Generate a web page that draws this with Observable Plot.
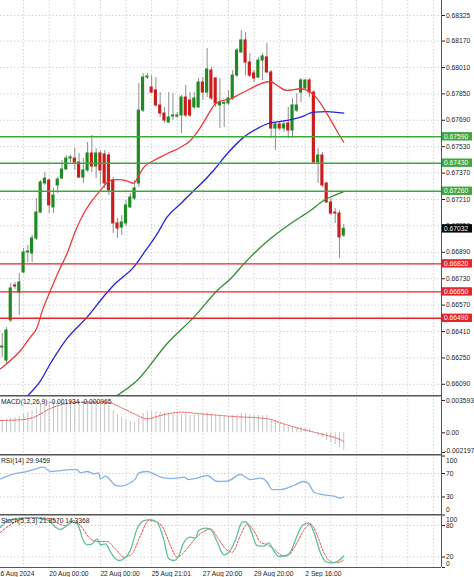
<!DOCTYPE html>
<html><head><meta charset="utf-8">
<script src="https://cdn.jsdelivr.net/npm/d3@7"></script>
<script src="https://cdn.jsdelivr.net/npm/@observablehq/plot@0.6"></script>
<style>
html,body{margin:0;padding:0;background:#fff;overflow:hidden;}
#chart{position:relative;width:474px;height:577px;overflow:hidden;}
#chart svg{position:absolute;left:0;}
</style></head><body><div id="chart"></div>
<script>
// ---------- candles (H4) ----------
const open  = [0.66313,0.66234,0.66477,0.66689,0.66646,0.66768,0.66889,0.66883,0.66974,0.67131,0.67307,0.67325,0.67162,0.67295,0.67337,0.67392,0.67458,0.67458,0.67434,0.67343,0.67386,0.67489,0.67410,0.67489,0.67483,0.67477,0.67325,0.67065,0.67040,0.67065,0.67162,0.67216,0.67307,0.67749,0.67949,0.67889,0.67871,0.67780,0.67731,0.67677,0.67713,0.67713,0.67719,0.67828,0.67810,0.67768,0.67768,0.67919,0.67858,0.67992,0.67943,0.67780,0.67790,0.67792,0.67822,0.67961,0.68101,0.68174,0.68040,0.67974,0.67949,0.68052,0.68071,0.67980,0.67640,0.67665,0.67640,0.67671,0.67628,0.67749,0.67858,0.67883,0.67931,0.67858,0.67434,0.67477,0.67307,0.67192,0.67131,0.67125,0.66992];
const high  = [0.66398,0.66434,0.66701,0.66707,0.66762,0.66913,0.66931,0.66992,0.67216,0.67325,0.67374,0.67337,0.67277,0.67343,0.67446,0.67477,0.67477,0.67519,0.67489,0.67458,0.67556,0.67598,0.67519,0.67507,0.67507,0.67495,0.67343,0.67095,0.67113,0.67204,0.67246,0.67325,0.67913,0.67974,0.67974,0.67961,0.67949,0.67858,0.67768,0.67858,0.67852,0.67737,0.67840,0.67901,0.67858,0.67858,0.67943,0.67949,0.68125,0.68010,0.67949,0.67943,0.67804,0.67871,0.67992,0.68125,0.68234,0.68222,0.68095,0.67992,0.68071,0.68095,0.68155,0.67992,0.67677,0.67677,0.67689,0.67768,0.67822,0.67852,0.67943,0.67937,0.67943,0.67871,0.67519,0.67495,0.67313,0.67216,0.67156,0.67143,0.67059];
const low   = [0.66253,0.66216,0.66465,0.66665,0.66507,0.66762,0.66828,0.66828,0.66962,0.67125,0.67295,0.67125,0.67125,0.67246,0.67331,0.67386,0.67434,0.67386,0.67337,0.67307,0.67374,0.67374,0.67337,0.67295,0.67277,0.67234,0.67004,0.66974,0.66992,0.67046,0.67156,0.67204,0.67283,0.67737,0.67937,0.67852,0.67768,0.67707,0.67671,0.67671,0.67689,0.67701,0.67610,0.67707,0.67707,0.67756,0.67762,0.67810,0.67828,0.67810,0.67768,0.67640,0.67646,0.67780,0.67810,0.67949,0.68095,0.67961,0.67949,0.67919,0.67943,0.67931,0.67974,0.67580,0.67507,0.67628,0.67616,0.67580,0.67580,0.67737,0.67798,0.67871,0.67828,0.67428,0.67307,0.67283,0.67186,0.67113,0.67065,0.66853,0.66980];
const close = [0.66319,0.66416,0.66671,0.66683,0.66707,0.66889,0.66895,0.66974,0.67131,0.67313,0.67337,0.67174,0.67234,0.67331,0.67392,0.67458,0.67465,0.67434,0.67343,0.67386,0.67489,0.67410,0.67489,0.67386,0.67307,0.67265,0.67065,0.67034,0.67071,0.67174,0.67222,0.67277,0.67749,0.67949,0.67955,0.67858,0.67780,0.67731,0.67689,0.67707,0.67719,0.67719,0.67828,0.67719,0.67719,0.67822,0.67919,0.67858,0.67998,0.67822,0.67792,0.67798,0.67795,0.67822,0.67961,0.68113,0.68174,0.68040,0.67961,0.67943,0.68052,0.68077,0.67980,0.67640,0.67665,0.67640,0.67665,0.67628,0.67780,0.67780,0.67931,0.67931,0.67858,0.67434,0.67477,0.67295,0.67192,0.67125,0.67125,0.66980,0.67032];

// ---------- moving averages: [bar, price] ----------
const maRed = [[-0.4,0.66184],[1.9,0.66234],[4.3,0.66295],[6.6,0.66376],[8.2,0.66436],[9.4,0.66537],[11.3,0.66658],[13.3,0.66780],[15.2,0.66883],[17.2,0.67022],[19.1,0.67125],[21.1,0.67204],[23,0.67265],[24.6,0.67313],[26.1,0.67331],[27.7,0.67331],[29.3,0.67321],[30.8,0.67309],[32,0.67356],[33.2,0.67406],[35.5,0.67446],[38.6,0.67487],[41.8,0.67527],[44.1,0.67568],[45.7,0.67618],[47.2,0.67679],[48.8,0.67749],[50,0.67790],[52.3,0.67814],[53.5,0.67820],[55.8,0.67851],[58.1,0.67881],[60.5,0.67911],[62.8,0.67925],[64.4,0.67901],[66.7,0.67871],[69.9,0.67881],[72.2,0.67860],[73.8,0.67820],[76.1,0.67729],[78.1,0.67639],[80,0.67557]];
const maBlue = [[6,0.66022],[9,0.66113],[11.3,0.66216],[15.2,0.66368],[19.9,0.66497],[24.6,0.66648],[26.5,0.66701],[30.8,0.66800],[33.6,0.66901],[36.3,0.67002],[38.6,0.67103],[41.8,0.67184],[44.9,0.67265],[46.4,0.67301],[49.5,0.67386],[52.7,0.67487],[56.6,0.67588],[59.7,0.67639],[62.1,0.67669],[66.7,0.67689],[69.9,0.67709],[73,0.67739],[76.1,0.67743],[80,0.67733]];
const maGreen = [[26.9,0.66022],[31.6,0.66113],[38.6,0.66336],[44.9,0.66497],[50.4,0.66659],[53.5,0.66730],[56.6,0.66820],[59.7,0.66901],[62.8,0.66972],[67.5,0.67063],[72.2,0.67143],[75.3,0.67204],[77.7,0.67234],[80,0.67258]];

// ---------- levels and labels ----------
const resistLevels = [0.67590, 0.67430, 0.67260];
const supportLevels = [0.66820, 0.66650, 0.66490];
const lastPrice = 0.67032;
const priceTicks = [0.68325,0.68170,0.68010,0.67850,0.67690,0.67530,0.67370,0.67210,0.67050,0.66890,0.66730,0.66570,0.66410,0.66250,0.66090];
const dateBars = [-1.25, 11, 23, 35, 47, 59, 71];
const dateLabels = ["16 Aug 2024","20 Aug 00:00","22 Aug 00:00","25 Aug 21:01","27 Aug 20:00","29 Aug 20:00","2 Sep 16:00"];
const gridBars = [5,11,17,23,29,35,41,47,53,59,65,71,77,83,89,95,101];

// ---------- MACD(12,26,9) ----------
const macdHist = [0.00148,0.00148,0.00159,0.00170,0.00181,0.00203,0.00226,0.00248,0.00281,0.00314,0.00337,0.00348,0.00348,0.00353,0.00359,0.00359,0.00359,0.00353,0.00348,0.00348,0.00353,0.00348,0.00348,0.00337,0.00326,0.00303,0.00248,0.00203,0.00170,0.00148,0.00126,0.00114,0.00159,0.00214,0.00237,0.00237,0.00237,0.00226,0.00214,0.00214,0.00203,0.00203,0.00203,0.00203,0.00192,0.00192,0.00203,0.00203,0.00214,0.00203,0.00192,0.00181,0.00181,0.00181,0.00192,0.00203,0.00214,0.00214,0.00203,0.00192,0.00192,0.00192,0.00192,0.00148,0.00126,0.00103,0.00092,0.00081,0.00070,0.00059,0.00059,0.00048,0.00037,0.00003,-0.00030,-0.00052,-0.00086,-0.00108,-0.00130,-0.00163,-0.001934];
const macdSignal = [[-0.4,0.00137],[4.3,0.00144],[7.4,0.00173],[11.3,0.0027],[15.2,0.00326],[19.1,0.0034],[24.6,0.0034],[27.7,0.00284],[30.8,0.00214],[34,0.00156],[37.1,0.00192],[41.8,0.00229],[46.4,0.00211],[54.2,0.00181],[62.1,0.00156],[65.9,0.001],[69.9,0.00044],[74.5,-0.00011],[79.6,-0.00086],[80,-0.000965]];
const macdTicks = [0.003593, 0, -0.002197];

// ---------- RSI(14) ----------
const rsiPts = [[-0.4,61],[1.2,65.5],[2.7,69.6],[5.1,72.3],[7.4,76.9],[9.7,80.9],[11.3,73.5],[13.7,75.2],[16,76.9],[17.6,76.9],[18.3,71.3],[19.9,73.5],[21.5,69.6],[22.6,71.3],[23,61],[24.2,65.5],[25.4,58.1],[26.5,49.6],[27.7,48.4],[30,54.2],[31.2,61],[32,71.3],[34,73.5],[35.5,69.6],[37.1,63.8],[39.4,61.5],[41.4,62.7],[42.5,63.8],[43.7,59.8],[45.7,62.1],[48,66.7],[50.4,56.4],[52.7,56.9],[55.8,68.4],[58.1,59.8],[60.5,62.1],[62.1,55.2],[63.2,42.7],[65.2,42.7],[66.7,45],[68.3,49.6],[70.6,56.4],[71.8,52.5],[73,38.1],[75.3,33.7],[77.7,31.3],[79.2,27.9],[80,29.95]];
const rsiTicks = [100, 70, 30, 0];

// ---------- Stochastic(5,3,3) ----------
const stochMain = [[-0.4,76.8],[0.8,86.3],[3.1,93],[6.6,95],[9,93],[10.9,89.5],[12.5,76.8],[13.7,72.4],[15.2,80],[16.4,86.3],[17.6,83.2],[19,51.4],[19.9,43.2],[21.1,45.1],[22.2,54.7],[23,43.2],[24.2,45.1],[25.4,29.1],[27.3,13.3],[28.5,16.6],[30,32.4],[31.6,73.7],[33.2,89.5],[34.7,91.4],[36.3,86.3],[37.8,54.7],[39,16.6],[40.2,13.3],[41.4,22.9],[42.5,47],[44.1,57.7],[45.3,55.8],[46,70.5],[47.6,74.9],[48.8,72.4],[50.4,48.2],[51.9,24.2],[53.1,29.1],[54.6,51.4],[56.2,86.3],[57,87.6],[58.1,73.7],[59.7,41.9],[61.3,40.6],[62.4,47],[63.6,32.4],[64.8,21],[66.3,21.5],[67.5,29.1],[69.1,61],[70.3,80],[71.8,85.1],[73,67.2],[74.5,29.1],[75.7,11.4],[76.9,9],[78.5,11.4],[80,21.857]];
const stochSignal = [[-0.4,67.2],[0.8,74.9],[4.3,91.4],[7.8,95.2],[11.3,92.8],[13.3,83.2],[14.8,80],[16.8,89.5],[18.3,80],[20.3,57.7],[22.2,49.5],[24.6,49.5],[26.5,35.6],[28.5,19.6],[30.4,26.1],[32.4,61],[34.3,89.5],[35.9,87.6],[37.8,73.7],[39.4,41.9],[41,19.6],[41.8,22.9],[43.3,35.6],[45.3,55.8],[47.2,68.6],[48.8,73.7],[50.4,57.7],[52.3,35.6],[53.9,29.1],[55.8,61],[57.4,83.2],[58.9,70.5],[60.5,48.2],[62.1,43.2],[64,32.4],[65.6,22.9],[67.1,24.2],[68.7,41.9],[70.6,70.5],[72.2,83.2],[73.8,61],[75.3,29.1],[76.9,11.4],[78.5,9],[80,14.3368]];
const stochTicks = [100, 80, 20, 0];

// ---------- layout ----------
const W = 474, MR = 33, X0 = -0.4, X1 = 102.9;
const barPx = (X1 - X0) / (W - MR);           // bar units per pixel
const FONT = '"Liberation Sans", Arial, sans-serif';
const FS = 6.7;
const GRID = {stroke: "#d2d2d2", strokeDasharray: "1.5,2", strokeWidth: 1};
const AXIS = "#555";
const GREEN_LVL = "#3ea83e", RED_LVL = "#e5262b";
const BULL = "#1f8a22", BEAR = "#cc1d1d";

function panel(top, height, yDomain, marks, marginBottom = 0) {
  const svg = Plot.plot({
    width: W, height,
    marginLeft: 0, marginRight: MR, marginTop: 0, marginBottom,
    x: {domain: [X0, X1], axis: null},
    y: {domain: yDomain},
    style: {fontFamily: FONT, fontSize: FS + "px", color: "#222", background: "transparent"},
    marks
  });
  svg.style.top = top + "px";
  document.getElementById("chart").appendChild(svg);
}
const xy = {x: d => d[0], y: d => d[1]};
const label = txt => Plot.text([txt], {frameAnchor: "top-left", text: d => d, dx: 0.5, dy: 6.5, textAnchor: "start", lineAnchor: "middle", fontSize: FS, fill: "#222"});
const sepTop = dom => Plot.ruleY([dom[1]], {stroke: AXIS, strokeWidth: 2.2});
const rightLine = Plot.ruleX([X1], {stroke: AXIS, strokeWidth: 1});
const tickMarks = ticks => Plot.axisY({anchor: "right", ticks, tickFormat: () => "", tickSize: 3});
const sideText = (vals, dy, fmt = d => String(d), dx = 4.5) => Plot.text(vals, {x: X1, y: d => d, text: fmt, dx, dy, textAnchor: "start", lineAnchor: "middle", fontSize: FS, fill: "#222"});

// ---------- main price panel ----------
const bars = open.map((o, i) => ({i, o, h: high[i], l: low[i], c: close[i]}));
const mainH = 395, mainDom = [0.660223, 0.684159];
const ppx = (mainDom[1] - mainDom[0]) / mainH;   // price per pixel
const boxH = 4.2 * ppx;
const box = (vals, fill) => Plot.rect(vals, {x1: X1 + 1 * barPx, x2: X1 + 31 * barPx, y1: d => d - boxH, y2: d => d + boxH, fill});
const boxText = vals => Plot.text(vals, {x: X1 + 2.5 * barPx, y: d => d, text: d => d.toFixed(5), textAnchor: "start", lineAnchor: "middle", fill: "white", fontSize: FS});

panel(0, mainH, mainDom, [
  Plot.ruleY(priceTicks, GRID),
  Plot.ruleX(gridBars, GRID),
  Plot.ruleX(bars, {x: "i", y1: "l", y2: "h", stroke: "#8e8e8e", strokeWidth: 1}),
  Plot.rect(bars.filter(d => d.c >= d.o), {x1: d => d.i - 0.37, x2: d => d.i + 0.37, y1: "o", y2: "c", fill: BULL, insetTop: -0.5, insetBottom: -0.5}),
  Plot.rect(bars.filter(d => d.c < d.o), {x1: d => d.i - 0.37, x2: d => d.i + 0.37, y1: "o", y2: "c", fill: BEAR, insetTop: -0.5, insetBottom: -0.5}),
  Plot.line(maGreen, {...xy, stroke: "#2f8f2f", strokeWidth: 1.3, curve: "monotone-x", clip: true}),
  Plot.line(maBlue, {...xy, stroke: "#2424dd", strokeWidth: 1.3, curve: "monotone-x", clip: true}),
  Plot.line(maRed, {...xy, stroke: "#f0383c", strokeWidth: 1.3, curve: "monotone-x", clip: true}),
  Plot.ruleY(resistLevels, {stroke: GREEN_LVL, strokeWidth: 1.6}),
  Plot.ruleY(supportLevels, {stroke: RED_LVL, strokeWidth: 1.4}),
  rightLine,
  Plot.axisY({anchor: "right", ticks: priceTicks, tickFormat: d => d.toFixed(5), tickSize: 3, tickPadding: 1.5, fontSize: FS}),
  box(resistLevels, GREEN_LVL), boxText(resistLevels),
  box(supportLevels, RED_LVL), boxText(supportLevels),
  box([lastPrice], "#000"), boxText([lastPrice])
]);

// ---------- MACD panel ----------
const macdDom = [-0.002411, 0.004144];
const macdFmt = d => d === 0 ? "0.00" : d.toFixed(6);
panel(395, 59, macdDom, [
  Plot.ruleX(gridBars, GRID),
  Plot.ruleX(macdHist, {x: (d, i) => i, y1: 0, y2: d => d, stroke: "#c4c4c4", strokeWidth: 1}),
  Plot.line(macdSignal, {...xy, stroke: "#e64848", strokeWidth: 1, strokeDasharray: "1.5,1.5", curve: "monotone-x"}),
  sepTop(macdDom), rightLine,
  tickMarks(macdTicks),
  sideText(macdTicks.slice(0, 2), 0, macdFmt),
  sideText([macdTicks[2]], -2.2, macdFmt, 2.8),
  label("MACD(12,26,9) -0.001934 -0.000965")
]);

// ---------- RSI panel ----------
const rsiDom = [0, 102.6];
panel(454, 60, rsiDom, [
  Plot.ruleX(gridBars, GRID),
  Plot.ruleY([70, 30], GRID),
  Plot.line(rsiPts, {...xy, stroke: "#84b3e6", strokeWidth: 1.3, curve: "monotone-x"}),
  sepTop(rsiDom), rightLine,
  tickMarks(rsiTicks),
  sideText(rsiTicks.slice(1, 3), 0),
  sideText([rsiTicks[0]], 4.5),
  sideText([rsiTicks[3]], -5),
  label("RSI(14) 29.9459")
]);

// ---------- Stochastic panel ----------
const stDom = [0, 101];
panel(514, 63, stDom, [
  Plot.ruleX(gridBars, GRID),
  Plot.ruleY([80, 20], GRID),
  Plot.line(stochSignal, {...xy, stroke: "#e84545", strokeWidth: 1, strokeDasharray: "2,1.6", curve: "monotone-x"}),
  Plot.line(stochMain, {...xy, stroke: "#5fbf9f", strokeWidth: 1.3, curve: "monotone-x"}),
  sepTop(stDom), rightLine,
  Plot.ruleY([0], {stroke: AXIS, strokeWidth: 1.2}),
  tickMarks(stochTicks),
  sideText(stochTicks.slice(1, 3), 0),
  sideText([stochTicks[0]], 4.5),
  sideText([stochTicks[3]], -3.5),
  Plot.text(dateBars, {x: d => d, y: 0, text: (d, i) => dateLabels[i], dy: 6.3, textAnchor: "start", lineAnchor: "middle", fontSize: FS, fill: "#222"}),
  label("Stoch(5,3,3) 21.8570 14.3368")
], 10);
</script></body></html>
